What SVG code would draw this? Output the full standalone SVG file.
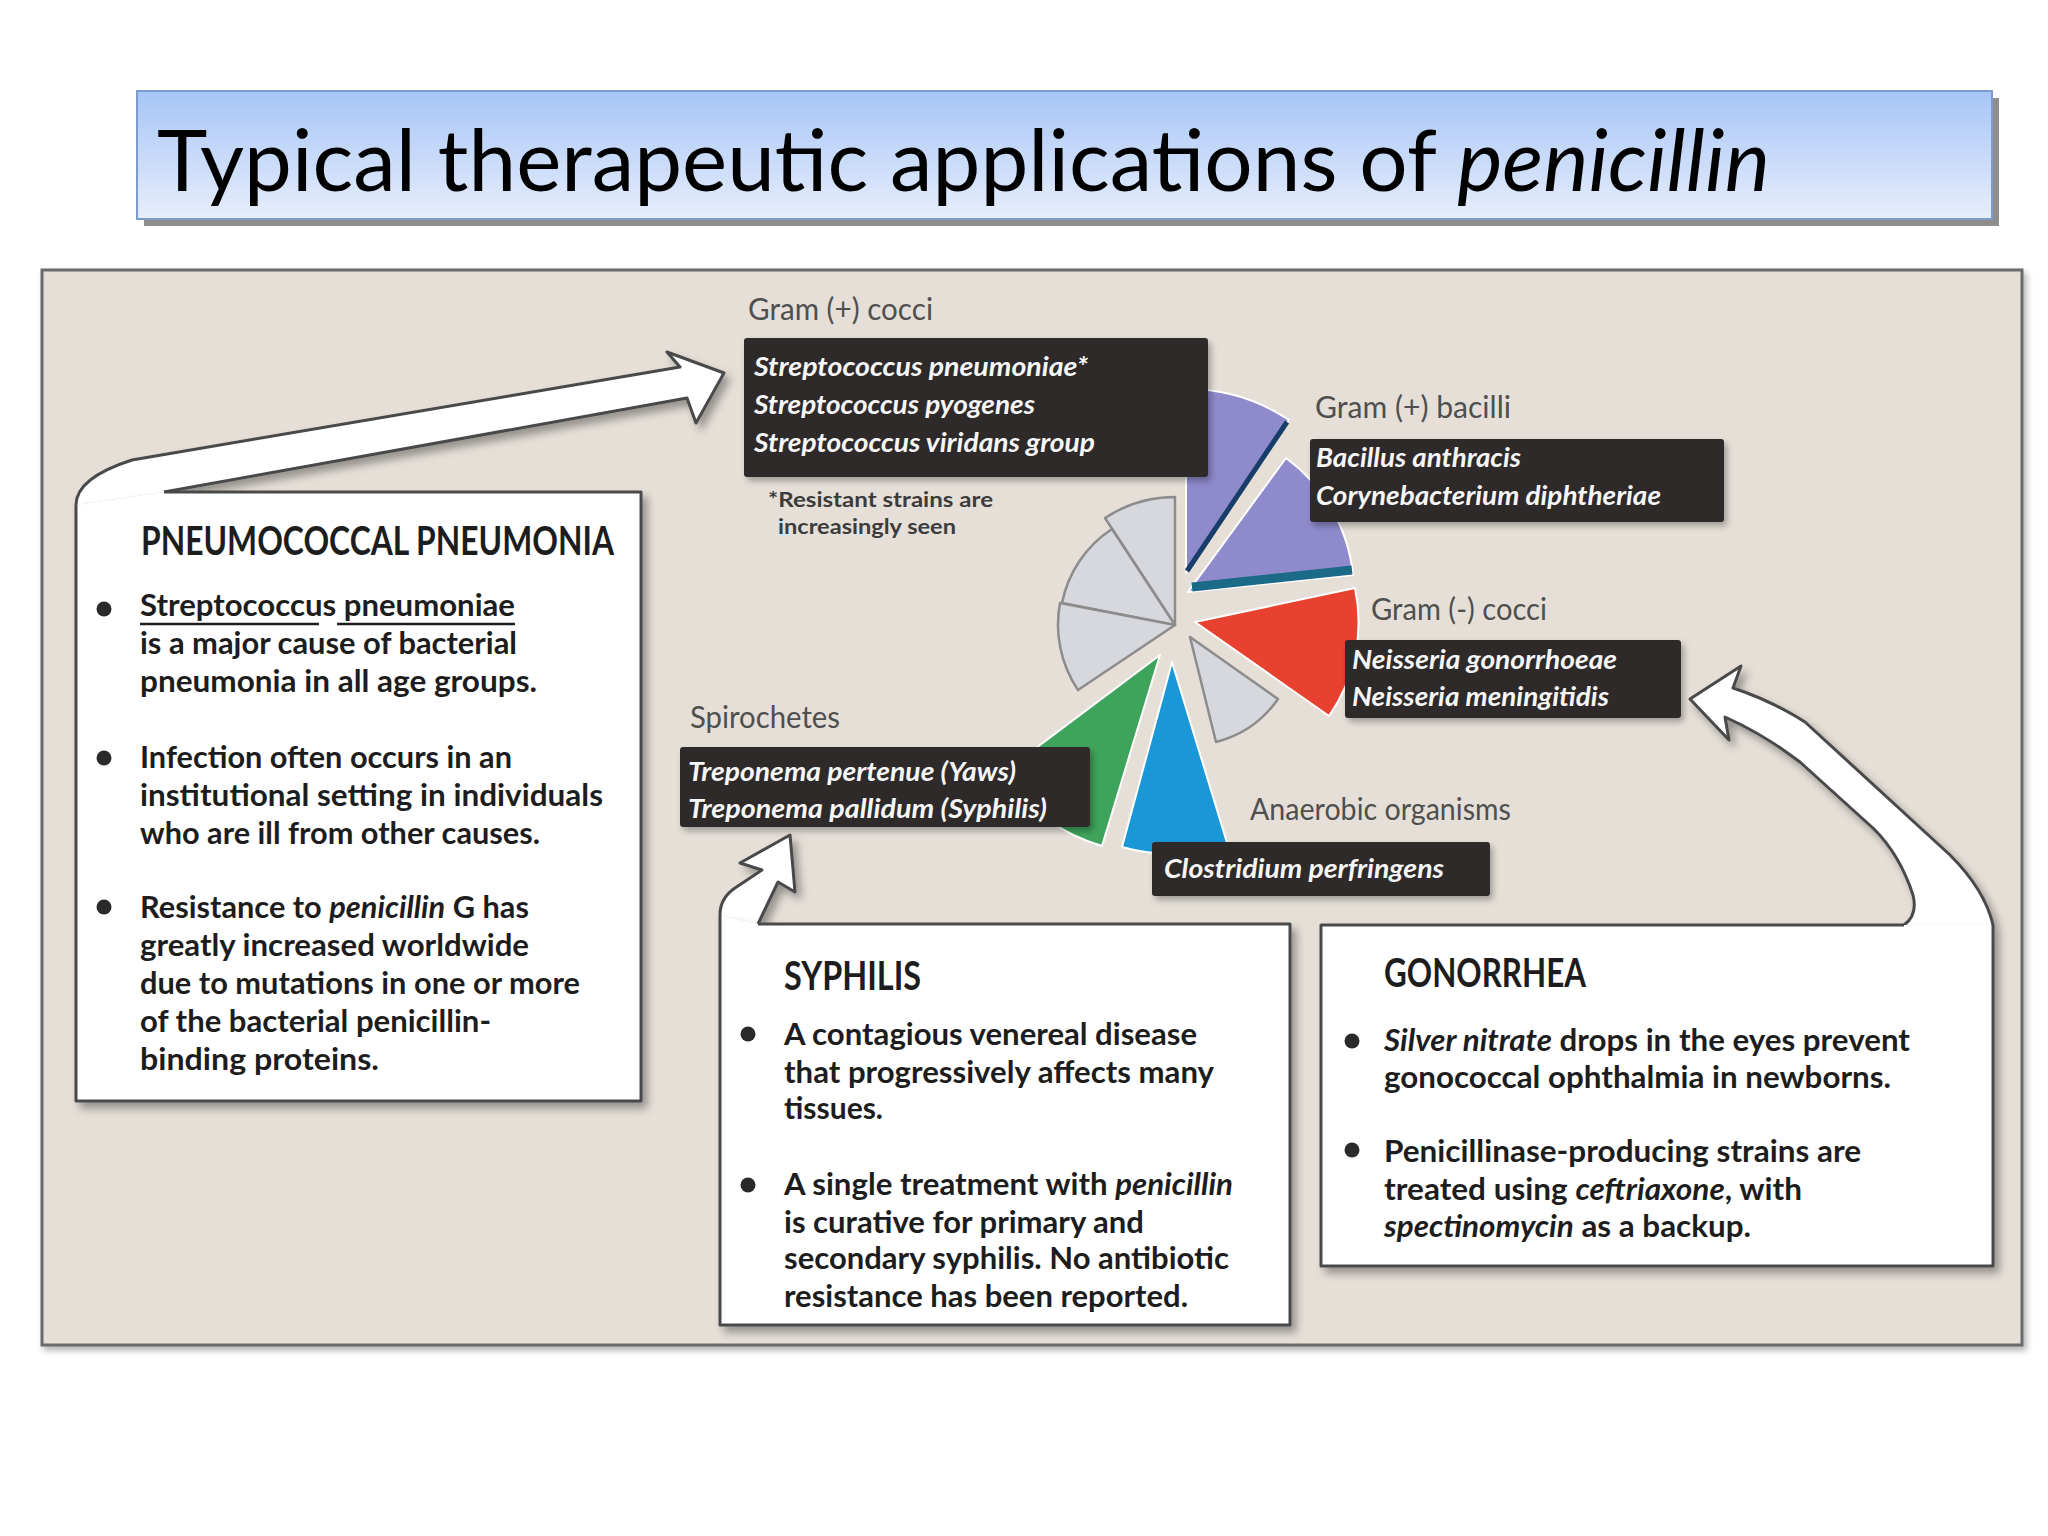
<svg xmlns="http://www.w3.org/2000/svg" width="2048" height="1536" viewBox="0 0 2048 1536">
<defs>
<linearGradient id="tg" x1="0" y1="0" x2="0" y2="1">
<stop offset="0" stop-color="#a7c5f6"/>
<stop offset="1" stop-color="#e7eefc"/>
</linearGradient>
<filter id="sh" x="-10%" y="-10%" width="130%" height="130%">
<feDropShadow dx="5" dy="6" stdDeviation="4" flood-color="#000" flood-opacity="0.35"/>
</filter>
<filter id="sh2" x="-10%" y="-10%" width="130%" height="130%">
<feDropShadow dx="3" dy="4" stdDeviation="3" flood-color="#000" flood-opacity="0.3"/>
</filter>
</defs>
<style>
text{font-family:Lato,"Liberation Sans",sans-serif}
.lbl{font-size:30px;fill:#4f4f4f}
.sp{font-size:27px;font-weight:bold;font-style:italic;fill:#f6f6f6}
.bd{font-size:30px;font-weight:bold;fill:#1d1d1d}
.hd{font-size:40px;font-weight:bold;fill:#1d1d1d}
.fn{font-size:20px;font-weight:bold;fill:#3c3c3c}
.it{font-style:italic}
.dk{fill:#2f2b2c;filter:url(#sh2)}
.gs{fill:#d6d8de;stroke:#8c8c8c;stroke-width:2.5;stroke-linejoin:round}
.cs{stroke:#ffffff;stroke-width:2;stroke-linejoin:round}
.co{fill:#ffffff;stroke:#4a4a4a;stroke-width:3;stroke-linejoin:round}
.dot{fill:#2a2a2a}
</style>
<rect x="0" y="0" width="2048" height="1536" fill="#ffffff"/>

<g id="title">
<rect x="144" y="98" width="1855" height="128" fill="#8e8e8e"/>
<rect x="137" y="91" width="1855" height="128" fill="url(#tg)" stroke="#7d9bcc" stroke-width="2"/>
<text x="157" y="191" font-size="86" fill="#000" textLength="1613" lengthAdjust="spacingAndGlyphs">Typical therapeutic applications of <tspan class="it">penicillin</tspan></text>
</g>

<g id="panel">
<rect x="42" y="270" width="1980" height="1075" fill="#e5dfd8" stroke="#6b6b6b" stroke-width="3" filter="url(#sh2)"/>
</g>

<g id="pie">
<path class="gs" d="M1175,625 L1105,518 A128,128 0 0 1 1175,497 Z"/>
<path class="gs" d="M1175,625 L1062,603 A115,115 0 0 1 1112,529 Z"/>
<path class="gs" d="M1175,625 L1078,690 A117,117 0 0 1 1060,603 Z"/>
<path class="gs" d="M1190,637 L1278,699 A108,108 0 0 1 1216,742 Z"/>
<path class="cs" fill="#8f8acb" d="M1186,573 L1186,389 A184,184 0 0 1 1289,420 Z"/>
<line x1="1187" y1="571" x2="1287" y2="422" stroke="#173d6b" stroke-width="5"/>
<path class="cs" fill="#8f8acb" d="M1188,592 L1286,458 A166,166 0 0 1 1353,575 Z"/>
<line x1="1192" y1="587" x2="1352" y2="570" stroke="#1b6a88" stroke-width="9"/>
<path class="cs" fill="#e8412f" d="M1195,622 L1355,588 A164,164 0 0 1 1329,716 Z"/>
<path class="cs" fill="#1a97d6" d="M1172,662 L1228,846 A192,192 0 0 1 1122,847 Z"/>
<path class="cs" fill="#3fa45b" d="M1160,655 L1102,846 A200,200 0 0 1 1000,775 Z"/>
</g>

<g id="connectors">
<path class="co" filter="url(#sh)" d="M76,505 Q76,478 132,460 L680,367 L667,352 L724,373 L696,423 L687,398 L164,492"/>
<path class="co" filter="url(#sh)" d="M720,915 Q720,898 735,888 L762,870 L740,863 L790,835 L795,892 L778,882 L758,924"/>
<path class="co" filter="url(#sh)" d="M1904,925 Q1918,915 1913,895 Q1900,855 1874,829 L1800,762 Q1765,735 1725,717 L1729,740 L1690,699 L1741,666 L1733,688 Q1770,700 1805,722 L1950,855 Q1985,890 1993,925"/>
</g>

<g id="pneumonia">
<path class="co" filter="url(#sh)" d="M164,492 L641,492 L641,1101 L76,1101 L76,505"/>
<text class="hd" x="141" y="555" textLength="473" lengthAdjust="spacingAndGlyphs">PNEUMOCOCCAL PNEUMONIA</text>
<circle class="dot" cx="104" cy="609" r="7.5"/>
<text class="bd" x="140" y="616" textLength="375" lengthAdjust="spacingAndGlyphs">Streptococcus pneumoniae</text>
<line x1="140" y1="624" x2="319" y2="624" stroke="#1d1d1d" stroke-width="2.5"/>
<line x1="337" y1="624" x2="515" y2="624" stroke="#1d1d1d" stroke-width="2.5"/>
<text class="bd" x="140" y="654" textLength="377" lengthAdjust="spacingAndGlyphs">is a major cause of bacterial</text>
<text class="bd" x="140" y="692" textLength="397" lengthAdjust="spacingAndGlyphs">pneumonia in all age groups.</text>
<circle class="dot" cx="104" cy="758" r="7.5"/>
<text class="bd" x="140" y="768" textLength="372" lengthAdjust="spacingAndGlyphs">Infection often occurs in an</text>
<text class="bd" x="140" y="806" textLength="463" lengthAdjust="spacingAndGlyphs">institutional setting in individuals</text>
<text class="bd" x="140" y="844" textLength="400" lengthAdjust="spacingAndGlyphs">who are ill from other causes.</text>
<circle class="dot" cx="104" cy="907" r="7.5"/>
<text class="bd" x="140" y="918" textLength="389" lengthAdjust="spacingAndGlyphs">Resistance to <tspan class="it">penicillin</tspan> G has</text>
<text class="bd" x="140" y="956" textLength="389" lengthAdjust="spacingAndGlyphs">greatly increased worldwide</text>
<text class="bd" x="140" y="994" textLength="440" lengthAdjust="spacingAndGlyphs">due to mutations in one or more</text>
<text class="bd" x="140" y="1032" textLength="351" lengthAdjust="spacingAndGlyphs">of the bacterial penicillin-</text>
<text class="bd" x="140" y="1070" textLength="239" lengthAdjust="spacingAndGlyphs">binding proteins.</text>
</g>

<g id="syphilis">
<path class="co" filter="url(#sh)" d="M758,924 L1290,924 L1290,1325 L720,1325 L720,915"/>
<text class="hd" x="784" y="990" font-size="38" textLength="137" lengthAdjust="spacingAndGlyphs">SYPHILIS</text>
<circle class="dot" cx="748" cy="1034" r="7.5"/>
<text class="bd" x="784" y="1045" textLength="413" lengthAdjust="spacingAndGlyphs">A contagious venereal disease</text>
<text class="bd" x="784" y="1083" textLength="430" lengthAdjust="spacingAndGlyphs">that progressively affects many</text>
<text class="bd" x="784" y="1119" textLength="99" lengthAdjust="spacingAndGlyphs">tissues.</text>
<circle class="dot" cx="748" cy="1185" r="7.5"/>
<text class="bd" x="784" y="1195" textLength="449" lengthAdjust="spacingAndGlyphs">A single treatment with <tspan class="it">penicillin</tspan></text>
<text class="bd" x="784" y="1233" textLength="360" lengthAdjust="spacingAndGlyphs">is curative for primary and</text>
<text class="bd" x="784" y="1269" textLength="445" lengthAdjust="spacingAndGlyphs">secondary syphilis. No antibiotic</text>
<text class="bd" x="784" y="1307" textLength="404" lengthAdjust="spacingAndGlyphs">resistance has been reported.</text>
</g>

<g id="gonorrhea">
<path class="co" filter="url(#sh)" d="M1993,925 L1993,1266 L1321,1266 L1321,925 L1904,925"/>
<text class="hd" x="1384" y="987" font-size="38" textLength="202" lengthAdjust="spacingAndGlyphs">GONORRHEA</text>
<circle class="dot" cx="1352" cy="1041" r="7.5"/>
<text class="bd" x="1384" y="1051" textLength="526" lengthAdjust="spacingAndGlyphs"><tspan class="it">Silver nitrate</tspan> drops in the eyes prevent</text>
<text class="bd" x="1384" y="1088" textLength="507" lengthAdjust="spacingAndGlyphs">gonococcal ophthalmia in newborns.</text>
<circle class="dot" cx="1352" cy="1150" r="7.5"/>
<text class="bd" x="1384" y="1162" textLength="477" lengthAdjust="spacingAndGlyphs">Penicillinase-producing strains are</text>
<text class="bd" x="1384" y="1200" textLength="418" lengthAdjust="spacingAndGlyphs">treated using <tspan class="it">ceftriaxone</tspan>, with</text>
<text class="bd" x="1384" y="1237" textLength="367" lengthAdjust="spacingAndGlyphs"><tspan class="it">spectinomycin</tspan> as a backup.</text>
</g>

<g id="gram-pos-cocci">
<text class="lbl" x="748" y="320" textLength="185" lengthAdjust="spacingAndGlyphs">Gram (+) cocci</text>
<rect class="dk" x="744" y="338" width="464" height="139" rx="3"/>
<text class="sp" x="754" y="376" textLength="334" lengthAdjust="spacingAndGlyphs">Streptococcus pneumoniae*</text>
<text class="sp" x="754" y="414" textLength="281" lengthAdjust="spacingAndGlyphs">Streptococcus pyogenes</text>
<text class="sp" x="754" y="452" textLength="341" lengthAdjust="spacingAndGlyphs">Streptococcus viridans group</text>
<text class="fn" x="768" y="507" textLength="225" lengthAdjust="spacingAndGlyphs">*Resistant strains are</text>
<text class="fn" x="778" y="534" textLength="178" lengthAdjust="spacingAndGlyphs">increasingly seen</text>
</g>

<g id="gram-pos-bacilli">
<text class="lbl" x="1315" y="418" textLength="196" lengthAdjust="spacingAndGlyphs">Gram (+) bacilli</text>
<rect class="dk" x="1310" y="439" width="414" height="83" rx="3"/>
<text class="sp" x="1316" y="467" textLength="205" lengthAdjust="spacingAndGlyphs">Bacillus anthracis</text>
<text class="sp" x="1316" y="505" textLength="345" lengthAdjust="spacingAndGlyphs">Corynebacterium diphtheriae</text>
</g>

<g id="gram-neg-cocci">
<text class="lbl" x="1371" y="620" textLength="176" lengthAdjust="spacingAndGlyphs">Gram (-) cocci</text>
<rect class="dk" x="1345" y="640" width="336" height="78" rx="3"/>
<text class="sp" x="1352" y="669" textLength="265" lengthAdjust="spacingAndGlyphs">Neisseria gonorrhoeae</text>
<text class="sp" x="1352" y="706" textLength="257" lengthAdjust="spacingAndGlyphs">Neisseria meningitidis</text>
</g>

<g id="spirochetes">
<text class="lbl" x="690" y="728" textLength="150" lengthAdjust="spacingAndGlyphs">Spirochetes</text>
<rect class="dk" x="680" y="747" width="410" height="80" rx="3"/>
<text class="sp" x="688" y="781" textLength="328" lengthAdjust="spacingAndGlyphs">Treponema pertenue (Yaws)</text>
<text class="sp" x="688" y="818" textLength="359" lengthAdjust="spacingAndGlyphs">Treponema pallidum (Syphilis)</text>
</g>

<g id="anaerobic">
<text class="lbl" x="1250" y="820" textLength="261" lengthAdjust="spacingAndGlyphs">Anaerobic organisms</text>
<rect class="dk" x="1152" y="842" width="338" height="54" rx="3"/>
<text class="sp" x="1164" y="878" textLength="280" lengthAdjust="spacingAndGlyphs">Clostridium perfringens</text>
</g>
</svg>
